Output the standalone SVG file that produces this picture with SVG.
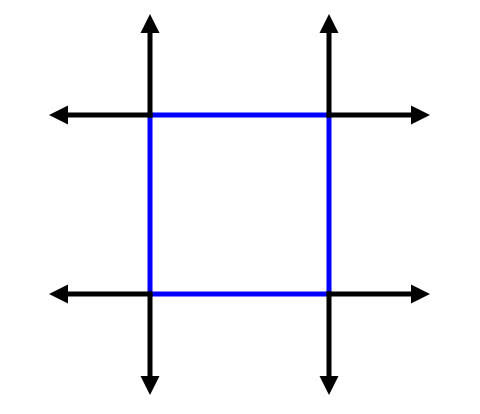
<svg xmlns="http://www.w3.org/2000/svg" width="480" height="414" viewBox="0 0 480 414">
<style>
.sq{fill:none;stroke:#0000ff;stroke-width:5}
.ax{fill:none;stroke:#000;stroke-width:5;stroke-linecap:square}
.hd{fill:#000;stroke:none}
</style>
<rect width="480" height="414" fill="#fff"/>
<g id="square">
<rect class="sq" x="150" y="115" width="179" height="179"/>
</g>
<g id="connectors">
<line class="ax" x1="150" y1="115" x2="150" y2="32"/>
<polygon class="hd" points="140.5,33 150,14 159.5,33"/>
<line class="ax" x1="329" y1="115" x2="329" y2="32"/>
<polygon class="hd" points="319.5,33 329,14 338.5,33"/>
<line class="ax" x1="150" y1="294" x2="150" y2="377"/>
<polygon class="hd" points="140.5,376 150,395 159.5,376"/>
<line class="ax" x1="329" y1="294" x2="329" y2="377"/>
<polygon class="hd" points="319.5,376 329,395 338.5,376"/>
<line class="ax" x1="150" y1="115" x2="67" y2="115"/>
<polygon class="hd" points="68,105.5 49,115 68,124.5"/>
<line class="ax" x1="150" y1="294" x2="67" y2="294"/>
<polygon class="hd" points="68,284.5 49,294 68,303.5"/>
<line class="ax" x1="329" y1="115" x2="412" y2="115"/>
<polygon class="hd" points="411,105.5 430,115 411,124.5"/>
<line class="ax" x1="329" y1="294" x2="412" y2="294"/>
<polygon class="hd" points="411,284.5 430,294 411,303.5"/>
</g>
</svg>
